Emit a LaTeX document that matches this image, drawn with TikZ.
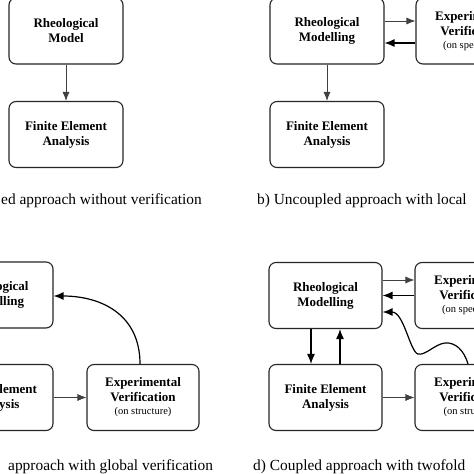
\documentclass[tikz,border=0pt]{standalone}
\usepackage{fontspec}
\setmainfont{Liberation Serif}
\usetikzlibrary{arrows.meta}
\begin{document}
\begin{tikzpicture}[x=1pt,y=-1pt,
  box/.style={draw=black!85, line width=1.1pt, rounded corners=7pt,
    minimum width=114pt, minimum height=66pt, align=center, inner sep=0pt,
    font=\fontsize{13}{15}\selectfont\bfseries},
  arr/.style={-{Latex[length=9pt,width=7pt]}, line width=0.8pt, draw=black!75},
  arrb/.style={-{Latex[length=10pt,width=8pt]}, line width=1.2pt, draw=black},
  captxt/.style={font=\fontsize{15.4}{18}\selectfont, inner sep=0pt}]
\useasboundingbox (0,0) rectangle (474,474);
\clip (0,0) rectangle (474,474);
\fill[white] (0,0) rectangle (474,474);
% panel a
\node[box] (A1) at (66,31) {Rheological\\Model};
\node[box] (A2) at (66,134.5) {Finite Element\\Analysis};
\draw[arr] (A1) -- (A2);
% panel b
\node[box] (B1) at (327,31) {Rheological\\Modelling};
\node[box] (B2) at (473,31) {Experimental\\Verification\\[-2pt]{\fontsize{10.5}{12}\selectfont\mdseries (on specimen)}};
\node[box] (B3) at (327,134.5) {Finite Element\\Analysis};
\draw[arr] ([yshift=10pt]B1.east) -- ([yshift=10pt]B2.west);
\draw[arrb] ([yshift=-12pt]B2.west) -- ([yshift=-12pt]B1.east);
\draw[arr] (B1) -- (B3);
% panel c
\node[box] (C1) at (-4,295) {Rheological\\Modelling};
\node[box] (C2) at (-4,397.5) {Finite Element\\Analysis};
\node[box, minimum width=112pt] (C3) at (143,397.5) {Experimental\\Verification\\[-2pt]{\fontsize{10.5}{12}\selectfont\mdseries (on structure)}};
\draw[arr] (C1) -- (C2);
\draw[arr] (C2) -- (C3);
\draw[arrb] ([xshift=-3pt]C3.north) .. controls +(0,-50) and +(47,0) .. ([yshift=-1pt]C1.east);
% panel d
\node[box, minimum width=113pt] (D1) at (325.5,295.5) {Rheological\\Modelling};
\node[box] (D2) at (472,295.5) {Experimental\\Verification\\[-2pt]{\fontsize{10.5}{12}\selectfont\mdseries (on specimen)}};
\node[box, minimum width=113pt] (D3) at (325.5,397.5) {Finite Element\\Analysis};
\node[box] (D4) at (472,397.5) {Experimental\\Verification\\[-2pt]{\fontsize{10.5}{12}\selectfont\mdseries (on structure)}};
\draw[arr] ([yshift=15.5pt]D1.east) -- ([yshift=15.5pt]D2.west);
\draw[arrb] (D2.west) -- (D1.east);
\draw[arrb] ([xshift=-14.5pt]D1.south) -- ([xshift=-14.5pt]D3.north);
\draw[arrb] ([xshift=14.5pt]D3.north) -- ([xshift=14.5pt]D1.south);
\draw[arr] (D3) -- (D4);
\draw[arrb] ([xshift=-4pt]D4.north) .. controls (464,350) and (455,342) .. (445,343)
  .. controls (435,344) and (425,356) .. (418,354)
  .. controls (410,352) and (404,312) .. ([yshift=-16.5pt]D1.east);
% captions
\node[captxt, anchor=base east] (capa) at (202,204) {ed approach without verification};
\node[captxt, anchor=base west] (capb) at (257,204) {b) Uncoupled approach with local};
\node[captxt, anchor=base west] (capc) at (8,470) {approach with global verification};
\node[captxt, anchor=base west] (capd) at (253,470) {d) Coupled approach with twofold};
\end{tikzpicture}
\end{document}
